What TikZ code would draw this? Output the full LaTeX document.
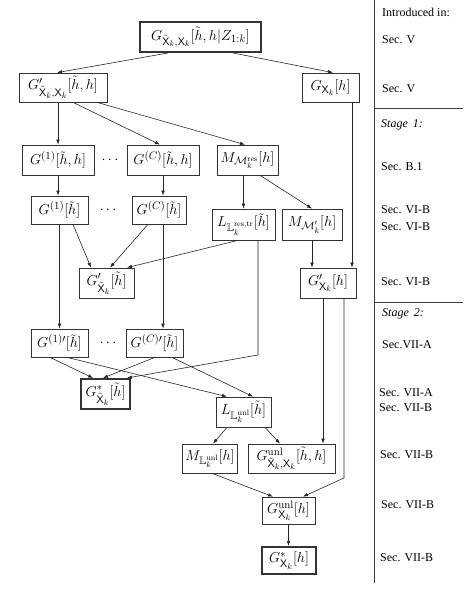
\documentclass[tikz,border=0pt]{standalone}
\usepackage{amssymb}
\usepackage{fontspec}
\newfontfamily\timesf{Liberation Serif}
\usetikzlibrary{arrows.meta}
\newcommand{\mfont}{\fontsize{15.5}{19}\selectfont}
\newcommand{\Xs}{\mathsf{X}}
\newcommand{\Xt}{\tilde{\mathsf{X}}}
\tikzset{
  box/.style={draw=black!80, line width=0.7pt, fill=white, minimum height=29pt, inner xsep=3pt, inner ysep=0pt, font=\mfont},
  tbox/.style={box, line width=2pt},
  conn/.style={draw=black!85, line width=0.6pt, -{Latex[length=5pt,width=3.6pt]}},
  plain/.style={draw=black!85, line width=0.6pt},
  sec/.style={anchor=west, font=\timesf\fontsize{12}{14}\selectfont, inner sep=0pt},
  sep/.style={draw=black!75, line width=0.8pt},
  dots/.style={font=\mfont, inner sep=0pt}
}
\begin{document}
\begin{tikzpicture}[x=1pt,y=-1pt]
\useasboundingbox (0,0) rectangle (474,609);
% nodes
\node[tbox, minimum width=121pt, minimum height=30pt] (top) at (200.5,37) {$G_{\Xt_k,\Xs_k}[\tilde h,h|Z_{1:k}]$};
\node[box, minimum width=88pt] (gp) at (63,87.5) {$G'_{\Xt_k,\Xs_k}[\tilde h,h]$};
\node[box, minimum width=57pt] (gx) at (330.5,87.5) {$G_{\Xs_k}[h]$};
\node[box, minimum width=72pt, minimum height=30pt] (g1hh) at (58,160) {$G^{(1)}[\tilde h,h]$};
\node[dots] (d1) at (110,160) {$\cdots$};
\node[box, minimum width=72pt, minimum height=30pt] (gchh) at (163,160) {$G^{(C)}[\tilde h,h]$};
\node[box, minimum width=61pt, minimum height=30pt] (mres) at (247.5,160) {$M_{\mathcal{M}_k^{\mathrm{res}}}[h]$};
\node[box, minimum width=57pt, minimum height=28pt] (g1h) at (59.5,210) {$G^{(1)}[\tilde h]$};
\node[dots] (d2) at (108,210) {$\cdots$};
\node[box, minimum width=54pt, minimum height=28pt] (gch) at (159,210) {$G^{(C)}[\tilde h]$};
\node[box, minimum width=63pt, minimum height=31pt] (lres) at (243.5,224.5) {$L_{\mathbb{L}_k^{\mathrm{res,tr}}}[\tilde h]$};
\node[box, minimum width=60pt, minimum height=31pt] (mmp) at (312,224.5) {$M_{\mathcal{M}'_k}[h]$};
\node[box, minimum width=55pt, minimum height=30pt] (gpxt) at (106.5,283) {$G'_{\Xt_k}[\tilde h]$};
\node[box, minimum width=56pt, minimum height=30pt] (gpx) at (328,283) {$G'_{\Xs_k}[h]$};
\node[box, minimum width=57pt, minimum height=28pt] (g1p) at (59.5,343) {$G^{(1)\prime}[\tilde h]$};
\node[dots] (d3) at (108,343) {$\cdots$};
\node[box, minimum width=57pt, minimum height=28pt] (gcp) at (154.5,343) {$G^{(C)\prime}[\tilde h]$};
\node[tbox, minimum width=49pt, minimum height=30pt] (gstar) at (105.5,394) {$G^*_{\Xt_k}[\tilde h]$};
\node[box, minimum width=55pt, minimum height=30pt] (lunl) at (243.5,412) {$L_{\mathbb{L}_k^{\mathrm{unl}}}[\tilde h]$};
\node[box, minimum width=54pt] (munl) at (210,458.5) {$M_{\mathbb{L}_k^{\mathrm{unl}}}[h]$};
\node[box, minimum width=87pt] (gunlxx) at (291.5,458.5) {$G^{\mathrm{unl}}_{\Xt_k,\Xs_k}[\tilde h,h]$};
\node[box, minimum width=53pt, minimum height=27pt] (gunlx) at (288.5,510.5) {$G^{\mathrm{unl}}_{\Xs_k}[h]$};
\node[tbox, minimum width=54pt, minimum height=27pt] (gstarx) at (289,560.5) {$G^*_{\Xs_k}[h]$};
% bend points
\coordinate (lbend) at (258,355);
\coordinate (rbend) at (344,478);
% connectors
\draw[conn] ([xshift=-32.5pt]top.south) -- ([xshift=-6pt]gp.north);
\draw[conn] ([xshift=32.5pt]top.south) -- ([xshift=2.5pt]gx.north);
\draw[conn] (g1hh.north |- gp.south) -- (g1hh.north);
\draw[conn] ([xshift=10pt]gp.south) -- ([xshift=-3pt]gchh.north);
\draw[conn] ([xshift=34pt]gp.south) -- ([xshift=-2.5pt]mres.north);
\draw[conn] ([xshift=21.5pt]gx.south) -- ([xshift=21.5pt]gx.south |- gpx.north);
\draw[conn] (g1hh.south) -- (g1hh.south |- g1h.north);
\draw[conn] (gchh.south) -- (gchh.south |- gch.north);
\draw[conn] (lres.north |- mres.south) -- (lres.north);
\draw[conn] ([xshift=12.5pt]mres.south) -- (mmp.north);
\draw[conn] (mmp.south) -- (mmp.south |- gpx.north);
\draw[conn] ([xshift=13.5pt]g1h.south) -- ([xshift=-15.5pt]gpxt.north);
\draw[conn] ([xshift=-11pt]gch.south) -- ([xshift=3.5pt]gpxt.north);
\draw[conn] ([xshift=-5.5pt]lres.south) -- ([xshift=20.5pt]gpxt.north);
\draw[conn] (g1h.south) -- (g1h.south |- g1p.north);
\draw[conn] ([xshift=4pt]gch.south) -- ([xshift=4pt]gch.south |- gcp.north);
\draw[conn] ([xshift=14.5pt]lres.south) -- (lbend) -- ([xshift=21.5pt]gstar.north);
\draw[conn] ([xshift=-9.5pt]g1p.south) -- ([xshift=-12.5pt]gstar.north);
\draw[conn] ([xshift=7.5pt]g1p.south) -- ([xshift=-16.5pt]lunl.north);
\draw[conn] ([xshift=0.5pt]gcp.south) -- ([xshift=-2.5pt]gstar.north);
\draw[conn] ([xshift=17.5pt]gcp.south) -- ([xshift=9.5pt]lunl.north);
\draw[conn] ([xshift=-5pt]gpx.south) -- ([xshift=-5pt]gpx.south |- gunlxx.north);
\draw[conn] ([xshift=16pt]gpx.south) -- (rbend) -- ([xshift=14.5pt]gunlx.north);
\draw[conn] ([xshift=-16.5pt]lunl.south) -- ([xshift=3pt]munl.north);
\draw[conn] ([xshift=21.5pt]lunl.south) -- ([xshift=-11.5pt]gunlxx.north);
\draw[conn] ([xshift=2pt]munl.south) -- ([xshift=-15.5pt]gunlx.north);
\draw[conn] (gunlx.south) -- (gunlx.south |- gstarx.north);
% right column
\coordinate (vt) at (374,0);
\coordinate (vb) at (374,583);
\coordinate (h1a) at (374,108.5);
\coordinate (h1b) at (463,108.5);
\coordinate (h2a) at (374,302);
\coordinate (h2b) at (463,302);
\draw[sep] (vt) -- (vb);
\draw[sep] (h1a) -- (h1b);
\draw[sep] (h2a) -- (h2b);
\node[sec] (t0) at (382,12) {Introduced in:};
\node[sec] (t1) at (382,40) {Sec. V};
\node[sec] (t2) at (382,89) {Sec. V};
\node[sec] (t3) at (381,125) {\itshape Stage\, 1:};
\node[sec] (t4) at (381,167) {Sec. B.1};
\node[sec] (t5) at (381,210) {Sec. VI-B};
\node[sec] (t6) at (381,227) {Sec. VI-B};
\node[sec] (t7) at (381,282) {Sec. VI-B};
\node[sec] (t8) at (382,314) {\itshape Stage\, 2:};
\node[sec] (t9) at (382,345) {Sec.VII-A};
\node[sec] (t10) at (379,393) {Sec. VII-A};
\node[sec] (t11) at (379,408) {Sec. VII-B};
\node[sec] (t12) at (380,455) {Sec. VII-B};
\node[sec] (t13) at (381,505) {Sec. VII-B};
\node[sec] (t14) at (380,558) {Sec. VII-B};
\end{tikzpicture}
\end{document}
